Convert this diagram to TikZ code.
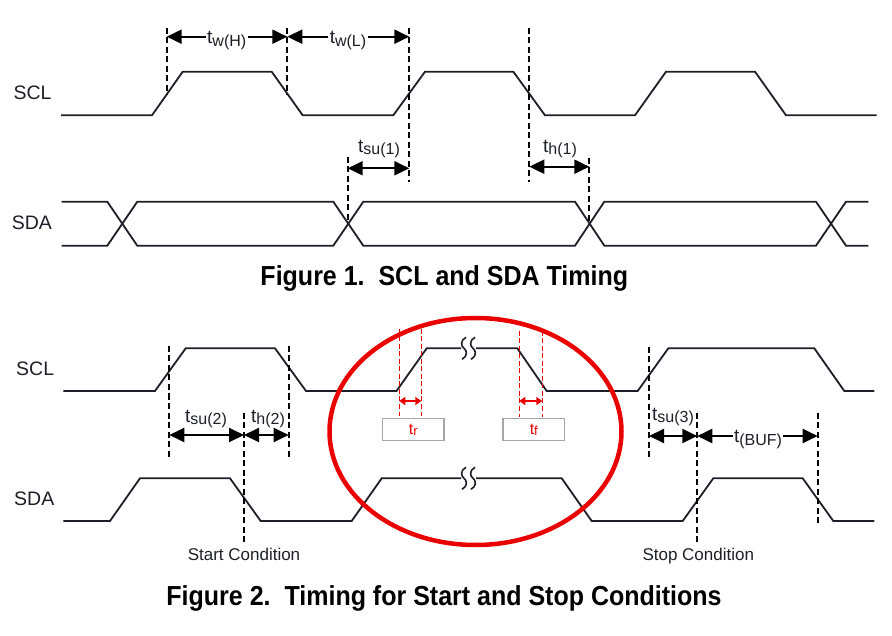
\documentclass[tikz,border=0pt]{standalone}
\usepackage{fontspec}
\setmainfont{Liberation Sans}
\usetikzlibrary{arrows.meta}
\newcommand\tlab[1]{t\raisebox{-2.5pt}{\fontsize{16}{16}\selectfont #1}}
\newcommand\rlab[1]{t\raisebox{-1pt}{\fontsize{13}{13}\selectfont #1}}
\newcommand\squig[2]{%
  \draw[squigline] (#1+5,#2-11) .. controls (#1-1,#2-8) and (#1,#2-2) .. (#1+3,#2)
     .. controls (#1+6,#2+2) and (#1+7,#2+8) .. (#1+1,#2+11);
  \draw[squigline] (#1+14,#2-11) .. controls (#1+8,#2-8) and (#1+9,#2-2) .. (#1+12,#2)
     .. controls (#1+15,#2+2) and (#1+16,#2+8) .. (#1+10,#2+11);}
\definecolor{ink}{RGB}{30,30,40}
\definecolor{annot}{RGB}{235,0,0}
\begin{document}
\begin{tikzpicture}[x=1pt,y=-1pt,
  sig/.style={line width=1.8pt, color=ink, line join=miter},
  squigline/.style={line width=1.6pt, color=ink},
  guide/.style={line width=2pt, color=black, dash pattern=on 6pt off 3.5pt},
  dimarrow/.style={line width=2pt, {Triangle[length=15pt,width=14pt]}-{Triangle[length=15pt,width=14pt]}},
  sigtext/.style={font=\fontsize{19.5}{20}\selectfont, text=ink, inner sep=0pt},
  tlabel/.style={font=\fontsize{19}{19}\selectfont, text=ink, inner sep=1.5pt},
  ontline/.style={fill=white},
  condtext/.style={font=\fontsize{17}{18}\selectfont, text=ink, inner sep=0pt},
  titletext/.style={font=\fontsize{25}{26}\selectfont\bfseries, text=black, inner sep=0pt},
  redguide/.style={line width=1.4pt, draw=annot, dash pattern=on 5pt off 2.5pt},
  redarrow/.style={line width=1.8pt, draw=annot, fill=annot, {Triangle[length=6pt,width=8pt]}-{Triangle[length=6pt,width=8pt]}},
  redbox/.style={draw=black!35, line width=1.2pt, fill=white, minimum width=61.7pt, minimum height=22pt, inner sep=0pt, text=annot, font=\fontsize{16}{16}\selectfont},
]
\useasboundingbox (0,0) rectangle (892,636);

% ================= Figure 1 =================
\node[sigtext, anchor=base west] (scl1) at (13.3,100) {SCL};
\node[sigtext, anchor=base west] (sda1) at (11.7,229.3) {SDA};

\draw[sig] (61,115.3) -- (152,115.3) -- (182.7,71.7) -- (271.7,71.7) -- (302.7,115.3)
  -- (393.3,115.3) -- (425,71.7) -- (513.3,71.7) -- (545,115.3) -- (635,115.3)
  -- (666,71.7) -- (755,71.7) -- (786,115.3) -- (876.7,115.3);

\draw[sig] (61.7,201.7) -- (107.3,201.7) -- (137.3,245.7) -- (333.3,245.7) -- (363.3,201.7)
  -- (575,201.7) -- (604.3,245.7) -- (816,245.7) -- (846,201.7) -- (868.3,201.7);
\draw[sig] (61.7,245.7) -- (107.3,245.7) -- (137.3,201.7) -- (333.3,201.7) -- (363.3,245.7)
  -- (575,245.7) -- (604.3,201.7) -- (816,201.7) -- (846,245.7) -- (868.3,245.7);

\coordinate (d1t) at (166.7,28);  \coordinate (d1b) at (166.7,95);
\coordinate (d2t) at (287.3,28);  \coordinate (d2b) at (287.3,95);
\coordinate (d3t) at (409.3,28);  \coordinate (d3b) at (409.3,181.7);
\coordinate (d4t) at (347.7,156.7); \coordinate (d4b) at (347.7,222);
\coordinate (d5t) at (529.3,28);  \coordinate (d5b) at (529.3,181.7);
\coordinate (d6t) at (589.3,158); \coordinate (d6b) at (589.3,223);
\foreach \d in {d1,d2,d3,d4,d5,d6} \draw[guide] (\d t) -- (\d b);

\coordinate (a1) at (166.7,36.7); \coordinate (a2) at (287.3,36.7); \coordinate (a3) at (409.3,36.7);
\coordinate (a4) at (347.7,168.3); \coordinate (a5) at (409.3,168.3);
\coordinate (a6) at (529.3,166.7); \coordinate (a7) at (589.3,166.7);
\draw[dimarrow] (a1) -- (a2);
\draw[dimarrow] (a2) -- (a3);
\draw[dimarrow] (a4) -- (a5);
\draw[dimarrow] (a6) -- (a7);
\node[tlabel, ontline] (twh) at (226.7,40.5) {\tlab{w(H)}};
\node[tlabel, ontline] (twl) at (348,40.5) {\tlab{w(L)}};
\node[tlabel] (tsu1) at (379,149) {\tlab{su(1)}};
\node[tlabel] (th1) at (560,149) {\tlab{h(1)}};

\node[titletext, anchor=base] (fig1) at (444.3,286) {\scalebox{1}[1.1]{Figure 1.\ \ SCL and SDA Timing}};

% ================= Figure 2 =================
\node[sigtext, anchor=base west] (scl2) at (16,376) {SCL};
\node[sigtext, anchor=base west] (sda2) at (14,505.7) {SDA};

\draw[sig] (63.3,391) -- (155,391) -- (185.7,348.3) -- (275,348.3) -- (306,391)
  -- (396.5,391) -- (426.7,348.3) -- (461,348.3);
\draw[sig] (476,348.3) -- (517.3,348.3) -- (546.7,391) -- (637.7,391) -- (668.3,348.3)
  -- (814.3,348.3) -- (844.3,391) -- (874.3,391);
\squig{461}{348.3}

\draw[sig] (63.3,521) -- (110,521) -- (140,478.3) -- (230,478.3) -- (260.7,521)
  -- (351.7,521) -- (381.7,478.3) -- (461,478.3);
\draw[sig] (476,478.3) -- (561.7,478.3) -- (591.7,521) -- (682.7,521) -- (713.3,478.3)
  -- (802.7,478.3) -- (833.3,521) -- (874.3,521);
\squig{461}{478.3}

\coordinate (e1t) at (169.3,346);   \coordinate (e1b) at (169.3,457.3);
\coordinate (e2t) at (288.7,346);   \coordinate (e2b) at (288.7,457.3);
\coordinate (e3t) at (244,412.7);   \coordinate (e3b) at (244,545);
\coordinate (e4t) at (649,346.7);   \coordinate (e4b) at (649,457.3);
\coordinate (e5t) at (697.3,412.7); \coordinate (e5b) at (697.3,545);
\coordinate (e6t) at (817.7,412.7); \coordinate (e6b) at (817.7,522.7);
\foreach \d in {e1,e2,e3,e4,e5,e6} \draw[guide] (\d t) -- (\d b);

\coordinate (b1) at (169.3,435); \coordinate (b2) at (244,435); \coordinate (b3) at (288.7,435);
\coordinate (b4) at (649,436); \coordinate (b5) at (697.3,436); \coordinate (b6) at (817.7,436);
\draw[dimarrow] (b1) -- (b2);
\draw[dimarrow] (b2) -- (b3);
\draw[dimarrow] (b4) -- (b5);
\draw[dimarrow] (b5) -- (b6);
\node[tlabel] (tsu2) at (206,419) {\tlab{su(2)}};
\node[tlabel] (th2) at (268,419) {\tlab{h(2)}};
\node[tlabel] (tsu3) at (673,417) {\tlab{su(3)}};
\node[tlabel, ontline] (tbuf) at (758,439.5) {\tlab{(BUF)}};

\node[condtext, anchor=base] (start) at (244,560.7) {Start Condition};
\node[condtext, anchor=base] (stop) at (698.3,560.7) {Stop Condition};

% red annotations
\coordinate (r1t) at (399.3,329); \coordinate (r1b) at (399.3,416);
\coordinate (r2t) at (421.3,329); \coordinate (r2b) at (421.3,416);
\coordinate (r3t) at (519.3,331); \coordinate (r3b) at (519.3,416.7);
\coordinate (r4t) at (542.3,331); \coordinate (r4b) at (542.3,416.7);
\draw[redguide] (r1t) -- (r1b);
\draw[redguide] (r2t) -- (r2b);
\draw[redguide] (r3t) -- (r3b);
\draw[redguide] (r4t) -- (r4b);
\coordinate (c1) at (399.3,401); \coordinate (c2) at (421.3,401);
\coordinate (c3) at (519.3,401); \coordinate (c4) at (542.3,401);
\draw[redarrow] (c1) -- (c2);
\draw[redarrow] (c3) -- (c4);
\node[redbox] (trbox) at (413.2,429.7) {\rlab{r}};
\node[redbox] (tfbox) at (533.8,429.7) {\rlab{f}};

\draw[line width=4.5pt, draw=annot] (475.5,431.5) ellipse [x radius=146, y radius=113.5];

\node[titletext, anchor=base] (fig2) at (444,605) {\scalebox{1}[1.1]{Figure 2.\ \ Timing for Start and Stop Conditions}};
\end{tikzpicture}
\end{document}
